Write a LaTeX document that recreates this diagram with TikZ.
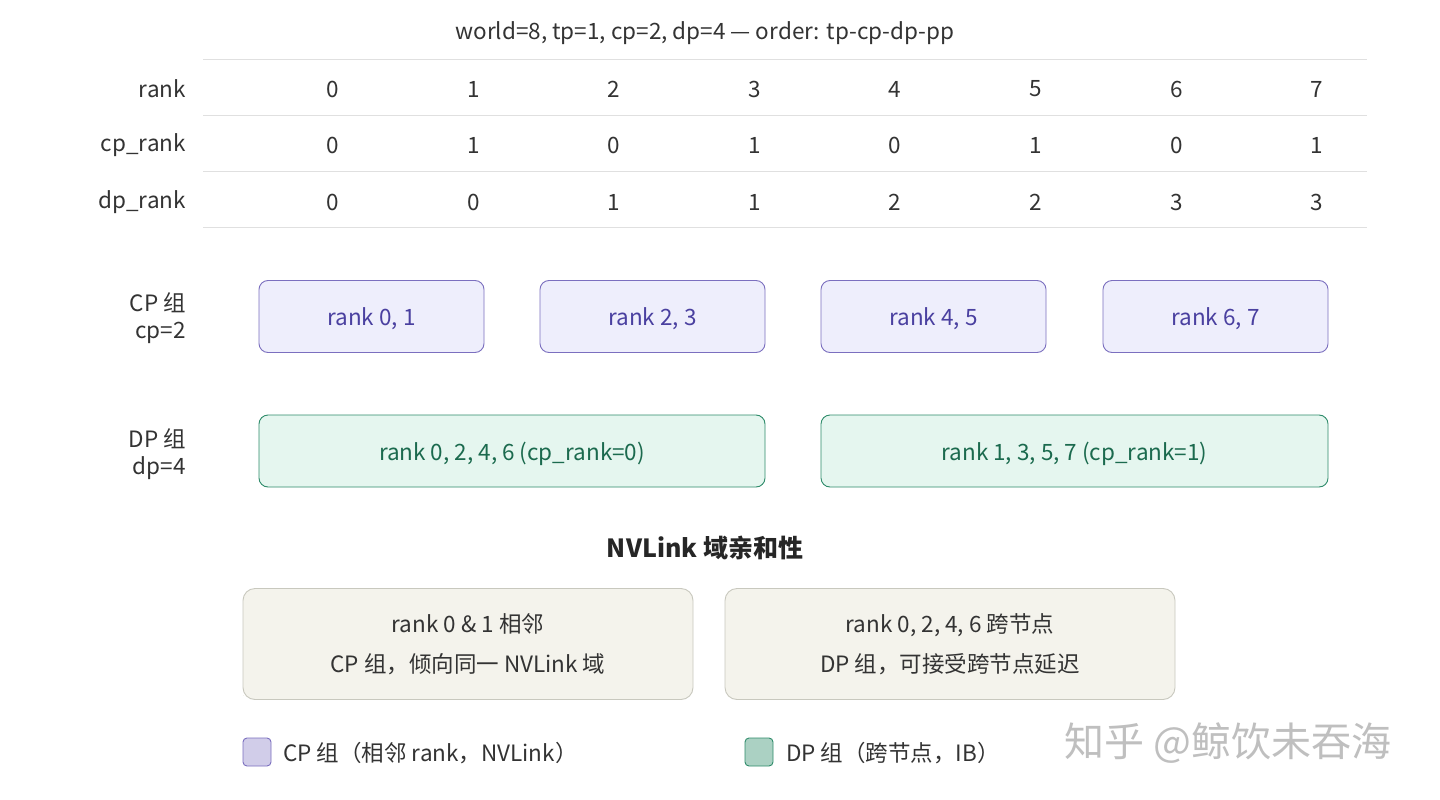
\documentclass[tikz,border=0pt]{standalone}
\usepackage{fontspec}
\setmainfont{Noto Sans CJK SC}
\begin{document}
\begin{tikzpicture}[x=1pt,y=-1pt,
  txt/.style={font=\fontsize{22.5}{27}\selectfont,text=black!80,inner sep=0pt},
  lbl/.style={txt,anchor=east,align=right},
  cpbox/.style={draw=cpb,fill=cpf,rounded corners=9pt,line width=0.9pt,text=cpt,font=\fontsize{22.5}{27}\selectfont},
  dpbox/.style={draw=dpb,fill=dpf,rounded corners=9pt,line width=0.9pt,text=dpt,font=\fontsize{22.5}{27}\selectfont},
  notebox/.style={draw=nb,fill=nf,rounded corners=12pt,line width=0.9pt,text=black!80,align=center,font=\fontsize{22.5}{40}\selectfont},
  rule/.style={draw=black!12,line width=0.8pt}]
\definecolor{cpb}{HTML}{7B6FBF}\definecolor{cpf}{HTML}{EEEEFC}\definecolor{cpt}{HTML}{4A40A0}
\definecolor{dpb}{HTML}{2E8B6A}\definecolor{dpf}{HTML}{E5F6EF}\definecolor{dpt}{HTML}{1B6A4E}
\definecolor{nb}{HTML}{C8C8BE}\definecolor{nf}{HTML}{F4F3EC}
\useasboundingbox[fill=white] (0,0) rectangle (1440,800);
\node[txt] (title) at (705,33) {world=8, tp=1, cp=2, dp=4 — order: tp-cp-dp-pp};
\foreach \yy/\nm in {59/l0,115/l1,171/l2,227/l3}{
  \coordinate (\nm a) at (203,\yy); \coordinate (\nm b) at (1367,\yy);
  \draw[rule] (\nm a) -- (\nm b);}
\node[lbl] (r0) at (186,89) {rank};
\node[lbl] (r1) at (186,145) {cp\_rank};
\node[lbl] (r2) at (186,202) {dp\_rank};
\foreach \i/\x/\c/\d in {0/333/0/0,1/474/1/0,2/614/0/1,3/755/1/1,4/895/0/2,5/1036/1/2,6/1177/0/3,7/1317/1/3}{
  \node[txt] (a\i) at (\x,89) {\i};
  \node[txt] (b\i) at (\x,145) {\c};
  \node[txt] (c\i) at (\x,202) {\d};}
\node[lbl] (cpl) at (186,318) {CP 组\\cp=2};
\node[lbl] (dpl) at (186,454) {DP 组\\dp=4};
\foreach \i/\x/\t in {1/259/{rank 0, 1},2/540/{rank 2, 3},3/821/{rank 4, 5},4/1103/{rank 6, 7}}
  \node[cpbox,minimum width=225pt,minimum height=72pt,text depth=-2pt] (cp\i) at (\x+112.5,316.5) {\t};
\node[dpbox,minimum width=506pt,minimum height=72pt,text depth=-2pt] (dp1) at (512,451) {rank 0, 2, 4, 6 (cp\_rank=0)};
\node[dpbox,minimum width=507pt,minimum height=72pt,text depth=-2pt] (dp2) at (1074.5,451) {rank 1, 3, 5, 7 (cp\_rank=1)};
\node[txt,font=\fontsize{25}{30}\selectfont\bfseries,text=black!85] (nv) at (705,548) {NVLink 域亲和性};
\node[notebox,minimum width=450pt,minimum height=111pt] (n1) at (468,644) {rank 0 \& 1 相邻\\CP 组，倾向同一 NVLink 域};
\node[notebox,minimum width=450pt,minimum height=111pt] (n2) at (950,644) {rank 0, 2, 4, 6 跨节点\\DP 组，可接受跨节点延迟};
\fill[nf] (243,695) rectangle (244,696);
\node[draw=cpb,line width=0.9pt,fill=cpb!35,rounded corners=4pt,minimum size=28pt,inner sep=0pt] (lg1) at (257,752) {};
\node[txt,anchor=west] (lt1) at (283,753) {CP 组（相邻 rank，NVLink）};
\node[draw=dpb,line width=0.9pt,fill=dpb!40,rounded corners=4pt,minimum size=28pt,inner sep=0pt] (lg2) at (759,752) {};
\node[txt,anchor=west] (lt2) at (786,753) {DP 组（跨节点，IB）};
\node[txt,font=\fontsize{40}{44}\selectfont,text=black!25] (wm) at (1228,743) {知乎 @鲸饮未吞海};
\end{tikzpicture}
\end{document}
